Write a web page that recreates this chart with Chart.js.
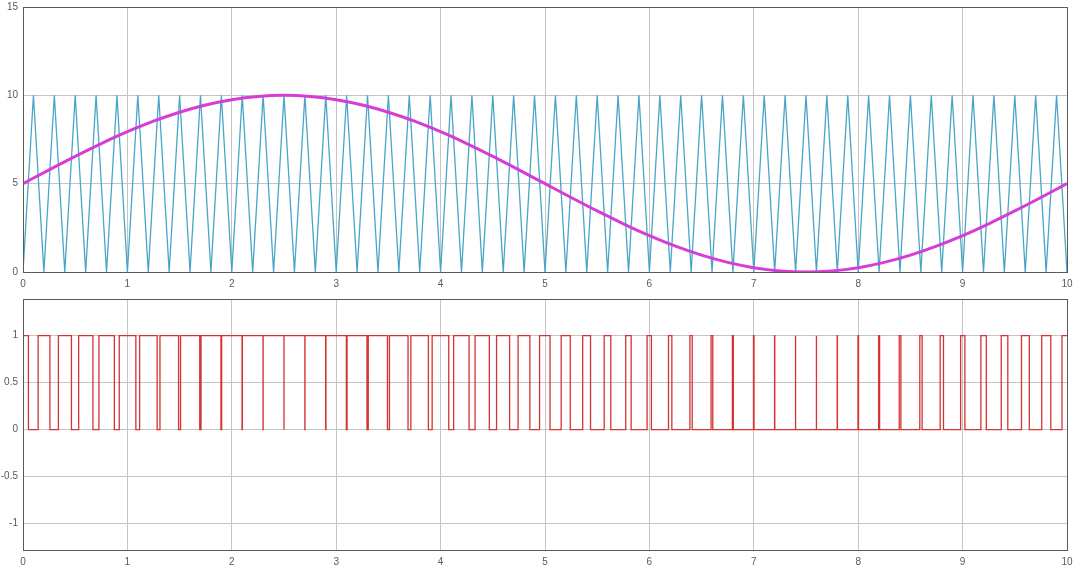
<!DOCTYPE html>
<html>
<head>
<meta charset="utf-8">
<script src="https://cdn.jsdelivr.net/npm/chart.js@4.4.1/dist/chart.umd.min.js"></script>
<style>
  html, body { margin: 0; padding: 0; background: #ffffff; }
  #wrap { position: relative; width: 1080px; height: 584px; background: #ffffff; }
  canvas { position: absolute; left: 0; }
  #top { top: 0; }
  #bottom { top: 292px; }
</style>
</head>
<body>
<div id="wrap">
  <canvas id="top" width="1080" height="292"></canvas>
  <canvas id="bottom" width="1080" height="292"></canvas>
</div>
<script>
// ---- tick labels ----
const xTickValues = [0, 1, 2, 3, 4, 5, 6, 7, 8, 9, 10];
const topYTickValues = [0, 5, 10, 15];
const bottomYTickValues = [-1, -0.5, 0, 0.5, 1];

// ---- carrier (triangle) wave: vertex times ----
const CARRIER_LOW = 0;
const CARRIER_HIGH = 10;
const carrierValleyTimes = [0, 0.2, 0.4, 0.6, 0.8, 1, 1.2, 1.4, 1.6, 1.8, 2, 2.2, 2.4, 2.6, 2.8, 3, 3.2, 3.4, 3.6, 3.8, 4, 4.2, 4.4, 4.6, 4.8, 5, 5.2, 5.4, 5.6, 5.8, 6, 6.2, 6.4, 6.6, 6.8, 7, 7.2, 7.4, 7.6, 7.8, 8, 8.2, 8.4, 8.6, 8.8, 9, 9.2, 9.4, 9.6, 9.8, 10];
const carrierPeakTimes = [0.1, 0.3, 0.5, 0.7, 0.9, 1.1, 1.3, 1.5, 1.7, 1.9, 2.1, 2.3, 2.5, 2.7, 2.9, 3.1, 3.3, 3.5, 3.7, 3.9, 4.1, 4.3, 4.5, 4.7, 4.9, 5.1, 5.3, 5.5, 5.7, 5.9, 6.1, 6.3, 6.5, 6.7, 6.9, 7.1, 7.3, 7.5, 7.7, 7.9, 8.1, 8.3, 8.5, 8.7, 8.9, 9.1, 9.3, 9.5, 9.7, 9.9];

// ---- modulating (sine) wave ----
const sineTimes = [0, 0.25, 0.5, 0.75, 1, 1.25, 1.5, 1.75, 2, 2.25, 2.5, 2.75, 3, 3.25, 3.5, 3.75, 4, 4.25, 4.5, 4.75, 5, 5.25, 5.5, 5.75, 6, 6.25, 6.5, 6.75, 7, 7.25, 7.5, 7.75, 8, 8.25, 8.5, 8.75, 9, 9.25, 9.5, 9.75, 10];
const sineValues = [5, 5.782, 6.545, 7.270, 7.939, 8.536, 9.045, 9.455, 9.755, 9.938, 10, 9.938, 9.755, 9.455, 9.045, 8.536, 7.939, 7.270, 6.545, 5.782, 5, 4.218, 3.455, 2.730, 2.061, 1.464, 0.955, 0.545, 0.245, 0.062, 0, 0.062, 0.245, 0.545, 0.955, 1.464, 2.061, 2.730, 3.455, 4.218, 5];

// ---- PWM output: edge times ----
const PWM_HIGH = 1;
const PWM_LOW = 0;
const pwmStart = 0;
const pwmEnd = 10;
const pwmFallTimes = [0.052, 0.258, 0.464, 0.670, 0.875, 1.081, 1.285, 1.490, 1.693, 1.896, 2.098, 2.299, 2.500, 2.700, 2.899, 3.097, 3.295, 3.491, 3.688, 3.883, 4.078, 4.273, 4.467, 4.661, 4.855, 5.048, 5.242, 5.436, 5.630, 5.825, 6.019, 6.215, 6.410, 6.607, 6.804, 7.002, 7.201, 7.400, 7.600, 7.801, 8.003, 8.205, 8.409, 8.612, 8.817, 9.022, 9.227, 9.433, 9.639, 9.845];
const pwmRiseTimes = [0.145, 0.339, 0.533, 0.727, 0.922, 1.117, 1.312, 1.509, 1.705, 1.903, 2.101, 2.300, 2.500, 2.701, 2.902, 3.104, 3.307, 3.510, 3.715, 3.919, 4.125, 4.330, 4.536, 4.742, 4.948, 5.155, 5.361, 5.567, 5.773, 5.978, 6.183, 6.388, 6.591, 6.795, 6.997, 7.199, 7.400, 7.600, 7.799, 7.998, 8.196, 8.393, 8.590, 8.785, 8.981, 9.175, 9.370, 9.564, 9.758, 9.952];

// ---- build point lists from the arrays ----
const carrierPoints = carrierValleyTimes.map(t => ({ x: t, y: CARRIER_LOW }))
  .concat(carrierPeakTimes.map(t => ({ x: t, y: CARRIER_HIGH })))
  .sort((a, b) => a.x - b.x);
const sinePoints = sineTimes.map((t, i) => ({ x: t, y: sineValues[i] }));
const pwmPoints = [{ x: pwmStart, y: PWM_HIGH }];
pwmFallTimes.forEach((t, i) => {
  pwmPoints.push({ x: t, y: PWM_LOW });
  pwmPoints.push({ x: pwmRiseTimes[i], y: PWM_HIGH });
});
pwmPoints.push({ x: pwmEnd, y: PWM_HIGH });

Chart.defaults.font.family = "'Liberation Sans', Arial, sans-serif";
Chart.defaults.font.size = 10;
Chart.defaults.color = '#5a5a5a';

const boxPlugin = {
  id: 'box',
  afterDraw(chart) {
    const a = chart.chartArea;
    const ctx = chart.ctx;
    ctx.save();
    ctx.strokeStyle = '#5a5a5a';
    ctx.lineWidth = 1;
    ctx.strokeRect(Math.round(a.left) + 0.5, Math.round(a.top) + 0.5, Math.round(a.right - a.left), Math.round(a.bottom - a.top));
    ctx.restore();
  }
};

function scalesFor(yMin, yMax, yTicks) {
  return {
    x: {
      type: 'linear', min: 0, max: 10,
      afterBuildTicks: s => { s.ticks = xTickValues.map(v => ({ value: v })); },
      afterFit: s => { s.height = 20; s.paddingLeft = 0; s.paddingRight = 0; },
      grid: { color: '#c4c4c4', drawTicks: false, lineWidth: 1 },
      border: { display: false },
      ticks: { padding: 6, maxRotation: 0, autoSkip: false, callback: v => String(v) }
    },
    y: {
      type: 'linear', min: yMin, max: yMax,
      afterBuildTicks: s => { s.ticks = yTicks.map(v => ({ value: v })); },
      afterFit: s => { s.width = 23; s.paddingTop = 0; s.paddingBottom = 0; },
      grid: { color: '#c4c4c4', drawTicks: false, lineWidth: 1 },
      border: { display: false },
      ticks: { padding: 5, autoSkip: false, callback: v => String(v) }
    }
  };
}

const common = {
  responsive: false,
  animation: false,
  devicePixelRatio: 1,
  events: [],
  plugins: { legend: { display: false }, tooltip: { enabled: false } },
  elements: { point: { radius: 0 } }
};

new Chart(document.getElementById('top'), {
  type: 'line',
  data: {
    datasets: [
      { data: sinePoints, borderColor: '#d63cd6', borderWidth: 3, cubicInterpolationMode: 'monotone', fill: false },
      { data: carrierPoints, borderColor: '#48a6c8', borderWidth: 1.3, tension: 0, fill: false }
    ]
  },
  options: Object.assign({}, common, {
    layout: { padding: { top: 7, right: 13, bottom: 0, left: 0 } },
    scales: scalesFor(0, 15, topYTickValues)
  }),
  plugins: [boxPlugin]
});

new Chart(document.getElementById('bottom'), {
  type: 'line',
  data: {
    datasets: [
      { data: pwmPoints, borderColor: '#d43434', borderWidth: 1.3, stepped: 'before', fill: false }
    ]
  },
  options: Object.assign({}, common, {
    layout: { padding: { top: 7, right: 13, bottom: 14, left: 0 } },
    scales: scalesFor(-1.28, 1.39, bottomYTickValues)
  }),
  plugins: [boxPlugin]
});
</script>
</body>
</html>
